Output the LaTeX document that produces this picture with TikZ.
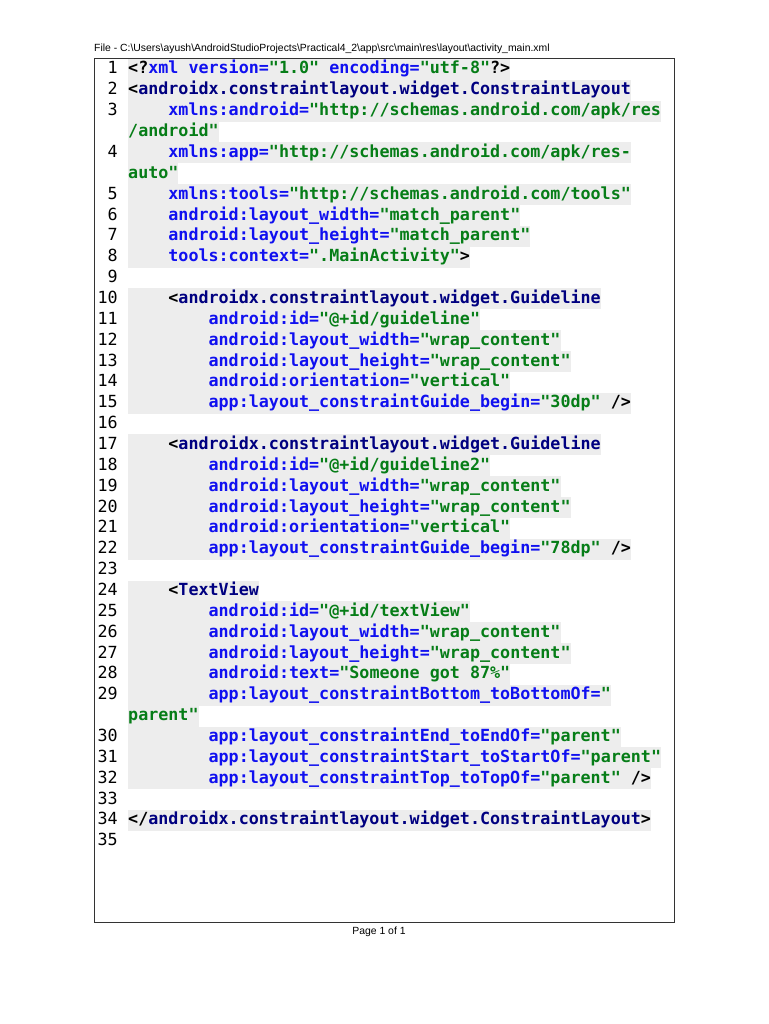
\documentclass[tikz,border=0pt]{standalone}
\usepackage{fontspec}
\setmainfont{Liberation Sans}
\newfontfamily\codef{DejaVu Sans Mono}
\definecolor{tagc}{HTML}{000080}
\definecolor{attc}{HTML}{1010F0}
\definecolor{valc}{HTML}{067D17}
\definecolor{codebg}{HTML}{EDEDED}
\newcommand\tg[1]{\textcolor{tagc}{#1}}
\newcommand\at[1]{\textcolor{attc}{#1}}
\newcommand\vl[1]{\textcolor{valc}{#1}}
\newcommand\ind{\hspace*{4\fontcharwd\font`0}}
\tikzset{
 lnum/.style={anchor=base east,inner sep=0pt,font=\codef\fontsize{16.7}{18}\selectfont},
 codeline/.style={anchor=base west,inner sep=0pt,fill=codebg,text height=15pt,text depth=5.9pt,font=\codef\fontsize{16.7}{18}\selectfont\bfseries}
}
\newcommand\crow[4]{\node[lnum] (n#1) at (118pt,{-74pt-#1*20.86pt}) {#2};
 \node[codeline] (c#1) at (128pt,{-74pt-#1*20.86pt}) {#3#4};}
\newcommand\brow[2]{\node[lnum] (n#1) at (118pt,{-74pt-#1*20.86pt}) {#2};}
\begin{document}
\begin{tikzpicture}[x=1pt,y=1pt]
\useasboundingbox (0,0) rectangle (768,-1024);
\fill[white] (0,0) rectangle (768,-1024);
\node[anchor=base west,inner sep=0pt,font=\fontsize{10.4}{12}\selectfont] (hdr) at (94,-52) {File - C:\textbackslash Users\textbackslash ayush\textbackslash AndroidStudioProjects\textbackslash Practical4\_2\textbackslash app\textbackslash src\textbackslash main\textbackslash res\textbackslash layout\textbackslash activity\_main.xml};
\draw[line width=0.8pt,black!80] (94,-58) rectangle (674,-922);
\node[anchor=base,inner sep=0pt,font=\fontsize{10.4}{12}\selectfont] (ftr) at (379,-934) {Page 1 of 1};
\crow{0}{1}{}{<?\at{xml version=}\vl{"1.0"} \at{encoding=}\vl{"utf-8"}?>}
\crow{1}{2}{}{<\tg{androidx.constraintlayout.widget.ConstraintLayout}}
\crow{2}{3}{\ind}{\at{xmlns:android=}\vl{"http://schemas.android.com/apk/res}}
\crow{3}{}{}{\vl{/android"}}
\crow{4}{4}{\ind}{\at{xmlns:app=}\vl{"http://schemas.android.com/apk/res-}}
\crow{5}{}{}{\vl{auto"}}
\crow{6}{5}{\ind}{\at{xmlns:tools=}\vl{"http://schemas.android.com/tools"}}
\crow{7}{6}{\ind}{\at{android:layout\_width=}\vl{"match\_parent"}}
\crow{8}{7}{\ind}{\at{android:layout\_height=}\vl{"match\_parent"}}
\crow{9}{8}{\ind}{\at{tools:context=}\vl{".MainActivity"}>}
\brow{10}{9}
\crow{11}{10}{\ind}{<\tg{androidx.constraintlayout.widget.Guideline}}
\crow{12}{11}{\ind\ind}{\at{android:id=}\vl{"@+id/guideline"}}
\crow{13}{12}{\ind\ind}{\at{android:layout\_width=}\vl{"wrap\_content"}}
\crow{14}{13}{\ind\ind}{\at{android:layout\_height=}\vl{"wrap\_content"}}
\crow{15}{14}{\ind\ind}{\at{android:orientation=}\vl{"vertical"}}
\crow{16}{15}{\ind\ind}{\at{app:layout\_constraintGuide\_begin=}\vl{"30dp"} />}
\brow{17}{16}
\crow{18}{17}{\ind}{<\tg{androidx.constraintlayout.widget.Guideline}}
\crow{19}{18}{\ind\ind}{\at{android:id=}\vl{"@+id/guideline2"}}
\crow{20}{19}{\ind\ind}{\at{android:layout\_width=}\vl{"wrap\_content"}}
\crow{21}{20}{\ind\ind}{\at{android:layout\_height=}\vl{"wrap\_content"}}
\crow{22}{21}{\ind\ind}{\at{android:orientation=}\vl{"vertical"}}
\crow{23}{22}{\ind\ind}{\at{app:layout\_constraintGuide\_begin=}\vl{"78dp"} />}
\brow{24}{23}
\crow{25}{24}{\ind}{<\tg{TextView}}
\crow{26}{25}{\ind\ind}{\at{android:id=}\vl{"@+id/textView"}}
\crow{27}{26}{\ind\ind}{\at{android:layout\_width=}\vl{"wrap\_content"}}
\crow{28}{27}{\ind\ind}{\at{android:layout\_height=}\vl{"wrap\_content"}}
\crow{29}{28}{\ind\ind}{\at{android:text=}\vl{"Someone got 87\%"}}
\crow{30}{29}{\ind\ind}{\at{app:layout\_constraintBottom\_toBottomOf=}\vl{"}}
\crow{31}{}{}{\vl{parent"}}
\crow{32}{30}{\ind\ind}{\at{app:layout\_constraintEnd\_toEndOf=}\vl{"parent"}}
\crow{33}{31}{\ind\ind}{\at{app:layout\_constraintStart\_toStartOf=}\vl{"parent"}}
\crow{34}{32}{\ind\ind}{\at{app:layout\_constraintTop\_toTopOf=}\vl{"parent"} />}
\brow{35}{33}
\crow{36}{34}{}{</\tg{androidx.constraintlayout.widget.ConstraintLayout}>}
\brow{37}{35}
\end{tikzpicture}
\end{document}
